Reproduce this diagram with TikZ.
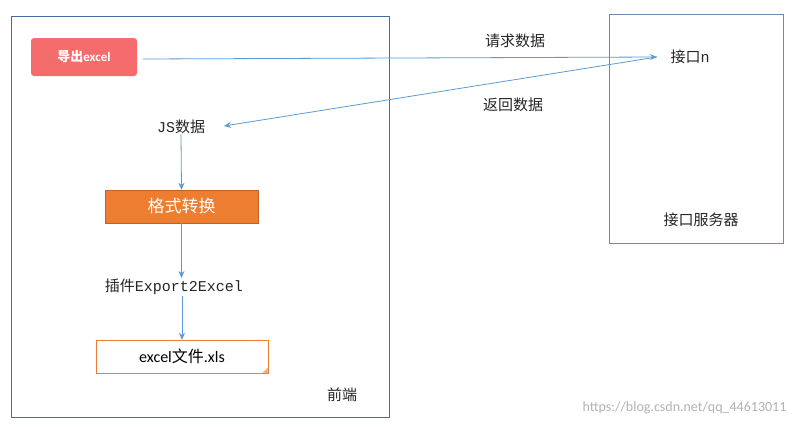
\documentclass[tikz,border=0pt]{standalone}
\usepackage{fontspec}
\setmainfont{Noto Sans CJK SC}
\newfontfamily\monof{Liberation Mono}
\newfontfamily\sansf{Carlito}
\usetikzlibrary{arrows.meta}
\definecolor{frame}{HTML}{4A6C9A}
\definecolor{arr}{HTML}{5B9BD5}
\definecolor{orng}{HTML}{ED7D31}
\definecolor{btn}{HTML}{F56C6C}
\tikzset{
  conn/.style={draw=arr, line width=0.8pt, -{Stealth[length=7pt,width=6pt]}},
  lbl/.style={font=\fontsize{15pt}{17pt}\selectfont, text=black!85, inner sep=1pt},
}
\begin{document}
\begin{tikzpicture}[x=1pt,y=-1pt]
\useasboundingbox[fill=white] (0,0) rectangle (795,426);
\draw[frame, line width=0.7pt] (11,16) rectangle (389,417);
\draw[frame!80, line width=0.7pt] (609,14) rectangle (783,243);
\node[fill=btn, rounded corners=3pt, minimum width=106pt, minimum height=38pt, text=white, font=\bfseries\fontsize{13pt}{15pt}\selectfont] (btn) at (84,57) {导出\sansf\bfseries excel};
\node[lbl] (api) at (690,57) {接口{\monof n}};
\node[lbl] (req) at (515,41) {请求数据};
\node[lbl] (ret) at (513,105) {返回数据};
\coordinate (apiin) at (657,57);
\node[lbl] (js) at (181,127) {{\monof JS}数据};
\node[fill=orng, draw=orng!80!black, minimum width=153pt, minimum height=33pt, text=white, font=\fontsize{17pt}{19pt}\selectfont] (fmt) at (181.5,206.5) {格式转换};
\node[lbl] (plug) at (174,287) {插件{\monof Export2Excel}};
\node[draw=orng, minimum width=172pt, minimum height=33pt, font=\fontsize{16pt}{18pt}\selectfont, inner sep=0pt] (file) at (182,356.5) {{\sansf excel}文件{\sansf .xls}};
\fill[orng!60] (file.south east) -- ++(-6,0) -- ++(6,-6) -- cycle;
\node[lbl] (fe) at (342,395) {前端};
\node[lbl] (srv) at (701,220) {接口服务器};
\node[text=black!30, font=\sansf\fontsize{14pt}{16pt}\selectfont, anchor=east] (wm) at (790,408) {https://blog.csdn.net/qq\_44613011};
\draw[conn] (btn.east)+(6,2) -- (apiin);
\draw[conn] (apiin) -- (224,126) coordinate (jsin);
\draw[conn] (js.south)+(0,-1) -- (fmt.north);
\draw[conn] (fmt.south) -- (plug.north -| fmt.south);
\draw[conn] (plug.south -| file.north) -- (file.north);
\end{tikzpicture}
\end{document}
